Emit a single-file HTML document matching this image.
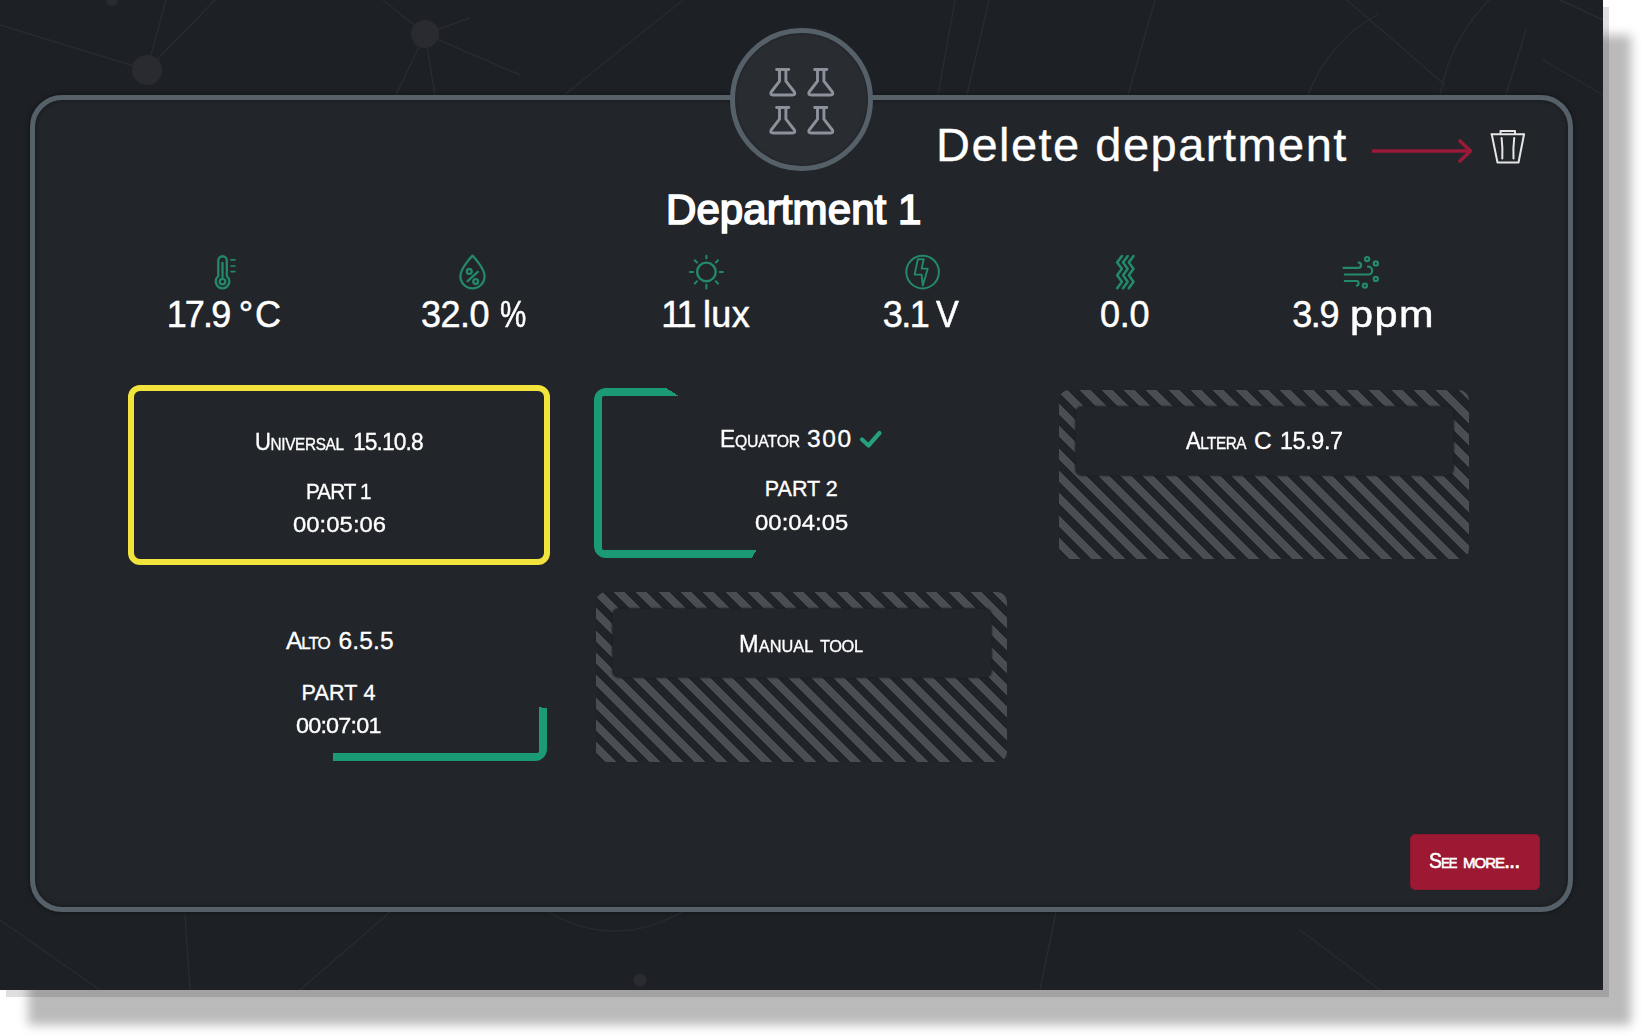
<!DOCTYPE html>
<html>
<head>
<meta charset="utf-8">
<style>
html,body{margin:0;padding:0;}
body{width:1643px;height:1036px;background:#fff;position:relative;overflow:hidden;font-family:"Liberation Sans",Arial,sans-serif;color:#fff;}
#screen{position:absolute;left:0;top:0;width:1603px;height:990px;background:#1d2024;overflow:hidden;
  box-shadow:6px 7px 0 rgba(0,0,0,0.125), 28px 35px 10px rgba(0,0,0,0.27);}
svg{position:absolute;left:0;top:0;overflow:visible;}
.panel{position:absolute;left:30px;top:95px;width:1543px;height:817px;box-sizing:border-box;border:5.5px solid #566069;border-radius:32px;background:#222529;box-shadow:0 0 4px 1px rgba(0,0,0,0.3), inset 0 0 4px 1px rgba(0,0,0,0.25);}
.circle{position:absolute;left:730px;top:28px;width:143px;height:143px;box-sizing:border-box;border:5.5px solid #566069;border-radius:50%;background:#292c31;box-shadow:inset 0 0 3px rgba(0,0,0,0.35);}
.t{position:absolute;white-space:nowrap;line-height:1;transform-origin:0 0;}
.title{font-size:42px;-webkit-text-stroke:1.7px #fff;}
.del{font-size:47px;-webkit-text-stroke:0.3px #fff;}
.val{font-size:36px;-webkit-text-stroke:0.5px #fff;}
.sc{font-variant:small-caps;font-size:24.5px;-webkit-text-stroke:0.35px #fff;}
.pt{font-size:21.5px;-webkit-text-stroke:0.35px #fff;}
.tm{font-size:22.5px;-webkit-text-stroke:0.35px #fff;}
#b1,#b2{font-size:22px;-webkit-text-stroke:0.6px #fff;}
.card{position:absolute;box-sizing:border-box;}
.yellow{left:128px;top:385px;width:422px;height:180px;border:6px solid #f3e33d;border-radius:12px;}
.prog{border-radius:12px;padding:8px;}
.prog .in{width:100%;height:100%;background:#222529;border-radius:2px;}
.stripe{border-radius:10px;}
.stripe .in{position:absolute;left:17px;right:16px;top:17px;height:68px;background:#222529;border-radius:6px;box-shadow:0 0 2px 1px #1d2024;}
.btn{position:absolute;left:1410px;top:834px;width:130px;height:56px;box-sizing:border-box;background:#9c1833;border:1px solid #8e1730;border-radius:5px;}
</style>
</head>
<body>
<div id="screen">
  <!-- faint background network -->
  <svg width="1603" height="990" fill="none" stroke="#282c31" stroke-width="1.4" stroke-linecap="round" style="filter:blur(0.7px)">
    <path d="M147 70L0 25M147 70L166 0M147 70L215 0M425 34L396 95M425 34L435 95M425 34L383 0M425 34L470 18M425 34L520 75M564 95L683 0M955 0L938 95M989 0L967 95M1155 0L1128 95"/>
    <path d="M1308 95Q1330 40 1377 15M1347 0L1445 85M1489 0Q1450 40 1440 95M1526 30L1506 95M1543 60L1603 95M1560 0L1603 20"/>
    <path d="M0 920L100 990M390 912L300 990M185 915L190 990M548 912Q615 950 682 912M1056 912L1040 990M1300 930L1380 990"/>
    <g fill="#2a2b30" stroke="none">
      <circle cx="147" cy="70" r="15"/>
      <circle cx="425" cy="34" r="14"/>
      <circle cx="112" cy="0" r="6"/>
      <circle cx="640" cy="980" r="6.5"/>
    </g>
  </svg>
  <div class="panel"></div>
  <div class="circle"></div>

  <!-- flasks -->
  <svg width="1603" height="990" fill="none" stroke="#8c929c" stroke-width="2.9" stroke-linejoin="round" stroke-linecap="round">
    <path transform="translate(768,68)" d="M8.6 1.5H20.8M11.5 1.5V13.2L3.2 24Q1.6 27 5.2 27H24.4Q28 27 26.4 24L17.9 13.2V1.5"/>
    <path transform="translate(806,68)" d="M8.6 1.5H20.8M11.5 1.5V13.2L3.2 24Q1.6 27 5.2 27H24.4Q28 27 26.4 24L17.9 13.2V1.5"/>
    <path transform="translate(768,106)" d="M8.6 1.5H20.8M11.5 1.5V13.2L3.2 24Q1.6 27 5.2 27H24.4Q28 27 26.4 24L17.9 13.2V1.5"/>
    <path transform="translate(806,106)" d="M8.6 1.5H20.8M11.5 1.5V13.2L3.2 24Q1.6 27 5.2 27H24.4Q28 27 26.4 24L17.9 13.2V1.5"/>
  </svg>

  <!-- arrow + trash -->
  <svg width="1603" height="990" fill="none" stroke-linecap="round" stroke-linejoin="round">
    <path d="M1372 151H1469" stroke="#9b1a39" stroke-width="3.6" stroke-linecap="butt"/><path d="M1460 141L1470.5 151L1460 161" stroke="#9b1a39" stroke-width="3.6"/>
    <g stroke="#e6e6e6" stroke-width="2">
      <path d="M1491.5 134.3H1524"/>
      <path d="M1500.5 133.5V131H1515V133.5"/>
      <path d="M1491.8 134.5L1497.5 162.5H1518.5L1524 134.5"/>
      <path d="M1501.6 138Q1502.8 148 1502.3 158.5M1514.2 138Q1513 148 1513.5 158.5"/>
    </g>
  </svg>

  <!-- sensor icons -->
  <svg width="1603" height="990" fill="none" stroke="#23896a" stroke-width="2.3" stroke-linecap="round" stroke-linejoin="round">
    <path d="M218.3 276.2V260.5A4.25 4.25 0 0 1 226.8 260.5V276.2A6.8 6.8 0 1 1 218.3 276.2Z"/>
    <path d="M222.5 263V277"/>
    <circle cx="222.5" cy="281.6" r="2.8"/>
    <path d="M231 259.8H235M231 266H235M231 271.6H235" stroke-width="1.7"/>
    <path d="M472.5 255.6C472.5 255.6 460.4 268 460.4 276.2A12.1 12.1 0 0 0 484.6 276.2C484.6 268 472.5 255.6 472.5 255.6Z"/>
    <circle cx="469.3" cy="271.4" r="2.4"/>
    <circle cx="475.7" cy="281.6" r="2.4"/>
    <path d="M467.6 281.2L477.8 271.8"/>
    <g stroke-width="2">
    <circle cx="706.4" cy="271.9" r="9.3" stroke-width="2.4"/>
    <path d="M706.4 255.8V258.2M706.4 284.8V288.6M689.9 271.9H693.1M719.7 271.9H722.9M694.7 260.2L697 262.5M715.8 281.3L718.1 283.6M694.7 283.6L697 281.3M715.8 262.5L718.1 260.2"/>
    </g>
    <circle cx="922.6" cy="272.1" r="16.3" stroke-width="2"/>
    <path d="M917.8 259.3H923.8L921.6 268.6H927.8L922.8 285.6L921.6 274.6H914.6Z" stroke-width="1.9"/>
    <g stroke-width="2.6">
    <path d="M1122 256L1117.2 262.4L1121.9 268.8L1117.2 275.3L1121.9 281.8L1117.2 288.2"/>
    <path d="M1127.8 256L1123 262.4L1127.7 268.8L1123 275.3L1127.7 281.8L1123 288.2"/>
    <path d="M1133.6 256L1128.8 262.4L1133.5 268.8L1128.8 275.3L1133.5 281.8L1128.8 288.2"/>
    </g>
    <g stroke-width="2.2">
    <path d="M1343.5 267.8H1358.3A2.6 2.6 0 0 0 1358.6 262.6"/>
    <path d="M1344.8 274.5H1368.5A3.9 3.9 0 0 0 1368 266.7"/>
    <path d="M1344.8 281H1357.2A2.4 2.4 0 0 1 1356.8 285.6"/>
    <circle cx="1367.1" cy="259.1" r="2.1"/>
    <circle cx="1375.8" cy="263.4" r="2.1"/>
    <circle cx="1375.8" cy="278.9" r="2.1"/>
    <circle cx="1364.9" cy="285.6" r="2.1"/>
    </g>
  </svg>

  <!-- cards -->
  <div class="card yellow"></div>
  <div class="card prog" style="left:594px;top:388px;width:416px;height:170px;background:conic-gradient(from 210.6deg, #1b9a78 0deg 91.4deg, transparent 91.4deg 360deg);"><div class="in"></div></div>
  <div class="card stripe" style="left:1059px;top:390px;width:410px;height:169px;background:repeating-linear-gradient(45deg,#202327 0 7.5px,#4a4d53 7.5px 15.27px,#202327 15.27px 15.77px);"><div class="in"></div></div>
  <div class="card prog" style="left:131px;top:591px;width:416px;height:170px;background:conic-gradient(from 98.8deg, #1b9a78 0deg 85.5deg, transparent 85.5deg 360deg);"><div class="in"></div></div>
  <div class="card stripe" style="left:596px;top:592px;width:411px;height:170px;background:repeating-linear-gradient(45deg,#202327 0 6.5px,#4a4d53 6.5px 14.3px,#202327 14.3px 15.77px);"><div class="in"></div></div>
  <svg width="1603" height="990" fill="none"><path d="M862 439.5L868.5 445.5L879.5 433" stroke="#26a07c" stroke-width="4.2" stroke-linecap="round" stroke-linejoin="round"/></svg>

  <div class="btn"></div>

  <div class="t title" id="dept" style="left:666.00px;top:188.75px;letter-spacing:0.09px;">Department 1</div>
  <div class="t del" id="del" style="left:936.00px;top:121.01px;letter-spacing:1.48px;">Delete department</div>
  <div class="t val" id="v1a" style="left:166.65px;top:296.53px;letter-spacing:-1.80px;">17.9</div>
  <div class="t val" id="v1b" style="left:238.80px;top:296.53px;letter-spacing:1.80px;">°C</div>
  <div class="t val" id="v2a" style="left:421.00px;top:296.53px;letter-spacing:-0.50px;">32.0</div>
  <div class="t val" id="v2b" style="left:500.00px;top:296.53px;letter-spacing:0.00px;transform:scaleX(0.82);">%</div>
  <div class="t val" id="v3a" style="left:661.15px;top:296.53px;letter-spacing:-2.00px;">11</div>
  <div class="t val" id="v3b" style="left:703.00px;top:296.53px;letter-spacing:0.35px;">lux</div>
  <div class="t val" id="v4a" style="left:882.70px;top:296.53px;letter-spacing:-1.50px;">3.1</div>
  <div class="t val" id="v4b" style="left:936.00px;top:296.53px;letter-spacing:0.00px;transform:scaleX(0.95);">V</div>
  <div class="t val" id="v5" style="left:1100.00px;top:296.53px;letter-spacing:-0.20px;">0.0</div>
  <div class="t val" id="v6a" style="left:1292.20px;top:296.53px;letter-spacing:-1.35px;">3.9</div>
  <div class="t val" id="v6b" style="left:1350.00px;top:296.53px;letter-spacing:1.23px;transform:scaleX(1.15);">ppm</div>
  <div class="t sc" id="c1a" style="left:255.40px;top:429.56px;letter-spacing:-0.37px;transform:scaleX(0.9);">Universal</div>
  <div class="t sc" id="c1b" style="left:352.60px;top:429.56px;letter-spacing:-0.98px;transform:scaleX(0.93);">15.10.8</div>
  <div class="t pt" id="c1p" style="left:306.40px;top:482.00px;letter-spacing:-0.93px;transform:scaleX(0.96);">PART 1</div>
  <div class="t tm" id="c1m" style="left:292.60px;top:514.15px;letter-spacing:0.04px;transform:scaleX(1.06);">00:05:06</div>
  <div class="t sc" id="c2a" style="left:720.00px;top:427.06px;letter-spacing:-0.22px;transform:scaleX(0.93);">Equator</div>
  <div class="t sc" id="c2b" style="left:807.00px;top:427.06px;letter-spacing:1.65px;">300</div>
  <div class="t pt" id="c2p" style="left:764.80px;top:479.20px;letter-spacing:0.00px;">PART 2</div>
  <div class="t tm" id="c2m" style="left:754.60px;top:511.55px;letter-spacing:0.05px;transform:scaleX(1.06);">00:04:05</div>
  <div class="t sc" id="c3a" style="left:1186.40px;top:429.36px;letter-spacing:-0.55px;transform:scaleX(0.9);">Altera</div>
  <div class="t sc" id="c3b" style="left:1254.00px;top:429.36px;letter-spacing:0.00px;">C</div>
  <div class="t sc" id="c3c" style="left:1279.80px;top:429.36px;letter-spacing:-0.37px;transform:scaleX(0.95);">15.9.7</div>
  <div class="t sc" id="c4a" style="left:286.00px;top:628.86px;letter-spacing:-1.03px;">Alto</div>
  <div class="t sc" id="c4b" style="left:338.40px;top:628.86px;letter-spacing:0.17px;">6.5.5</div>
  <div class="t pt" id="c4p" style="left:301.40px;top:682.80px;letter-spacing:0.24px;">PART 4</div>
  <div class="t tm" id="c4m" style="left:296.20px;top:714.95px;letter-spacing:-0.78px;transform:scaleX(1.04);">00:07:01</div>
  <div class="t sc" id="c5a" style="left:739.20px;top:631.96px;letter-spacing:0.08px;transform:scaleX(0.96);">Manual</div>
  <div class="t sc" id="c5b" style="left:820.00px;top:631.96px;letter-spacing:-0.41px;transform:scaleX(0.96);">tool</div>
  <div class="t sc" id="b1" style="left:1429.40px;top:850.08px;letter-spacing:-1.15px;transform:scaleX(0.88);">See</div>
  <div class="t sc" id="b2" style="left:1463.00px;top:850.08px;letter-spacing:-1.00px;">more...</div>
</div>
</body>
</html>
